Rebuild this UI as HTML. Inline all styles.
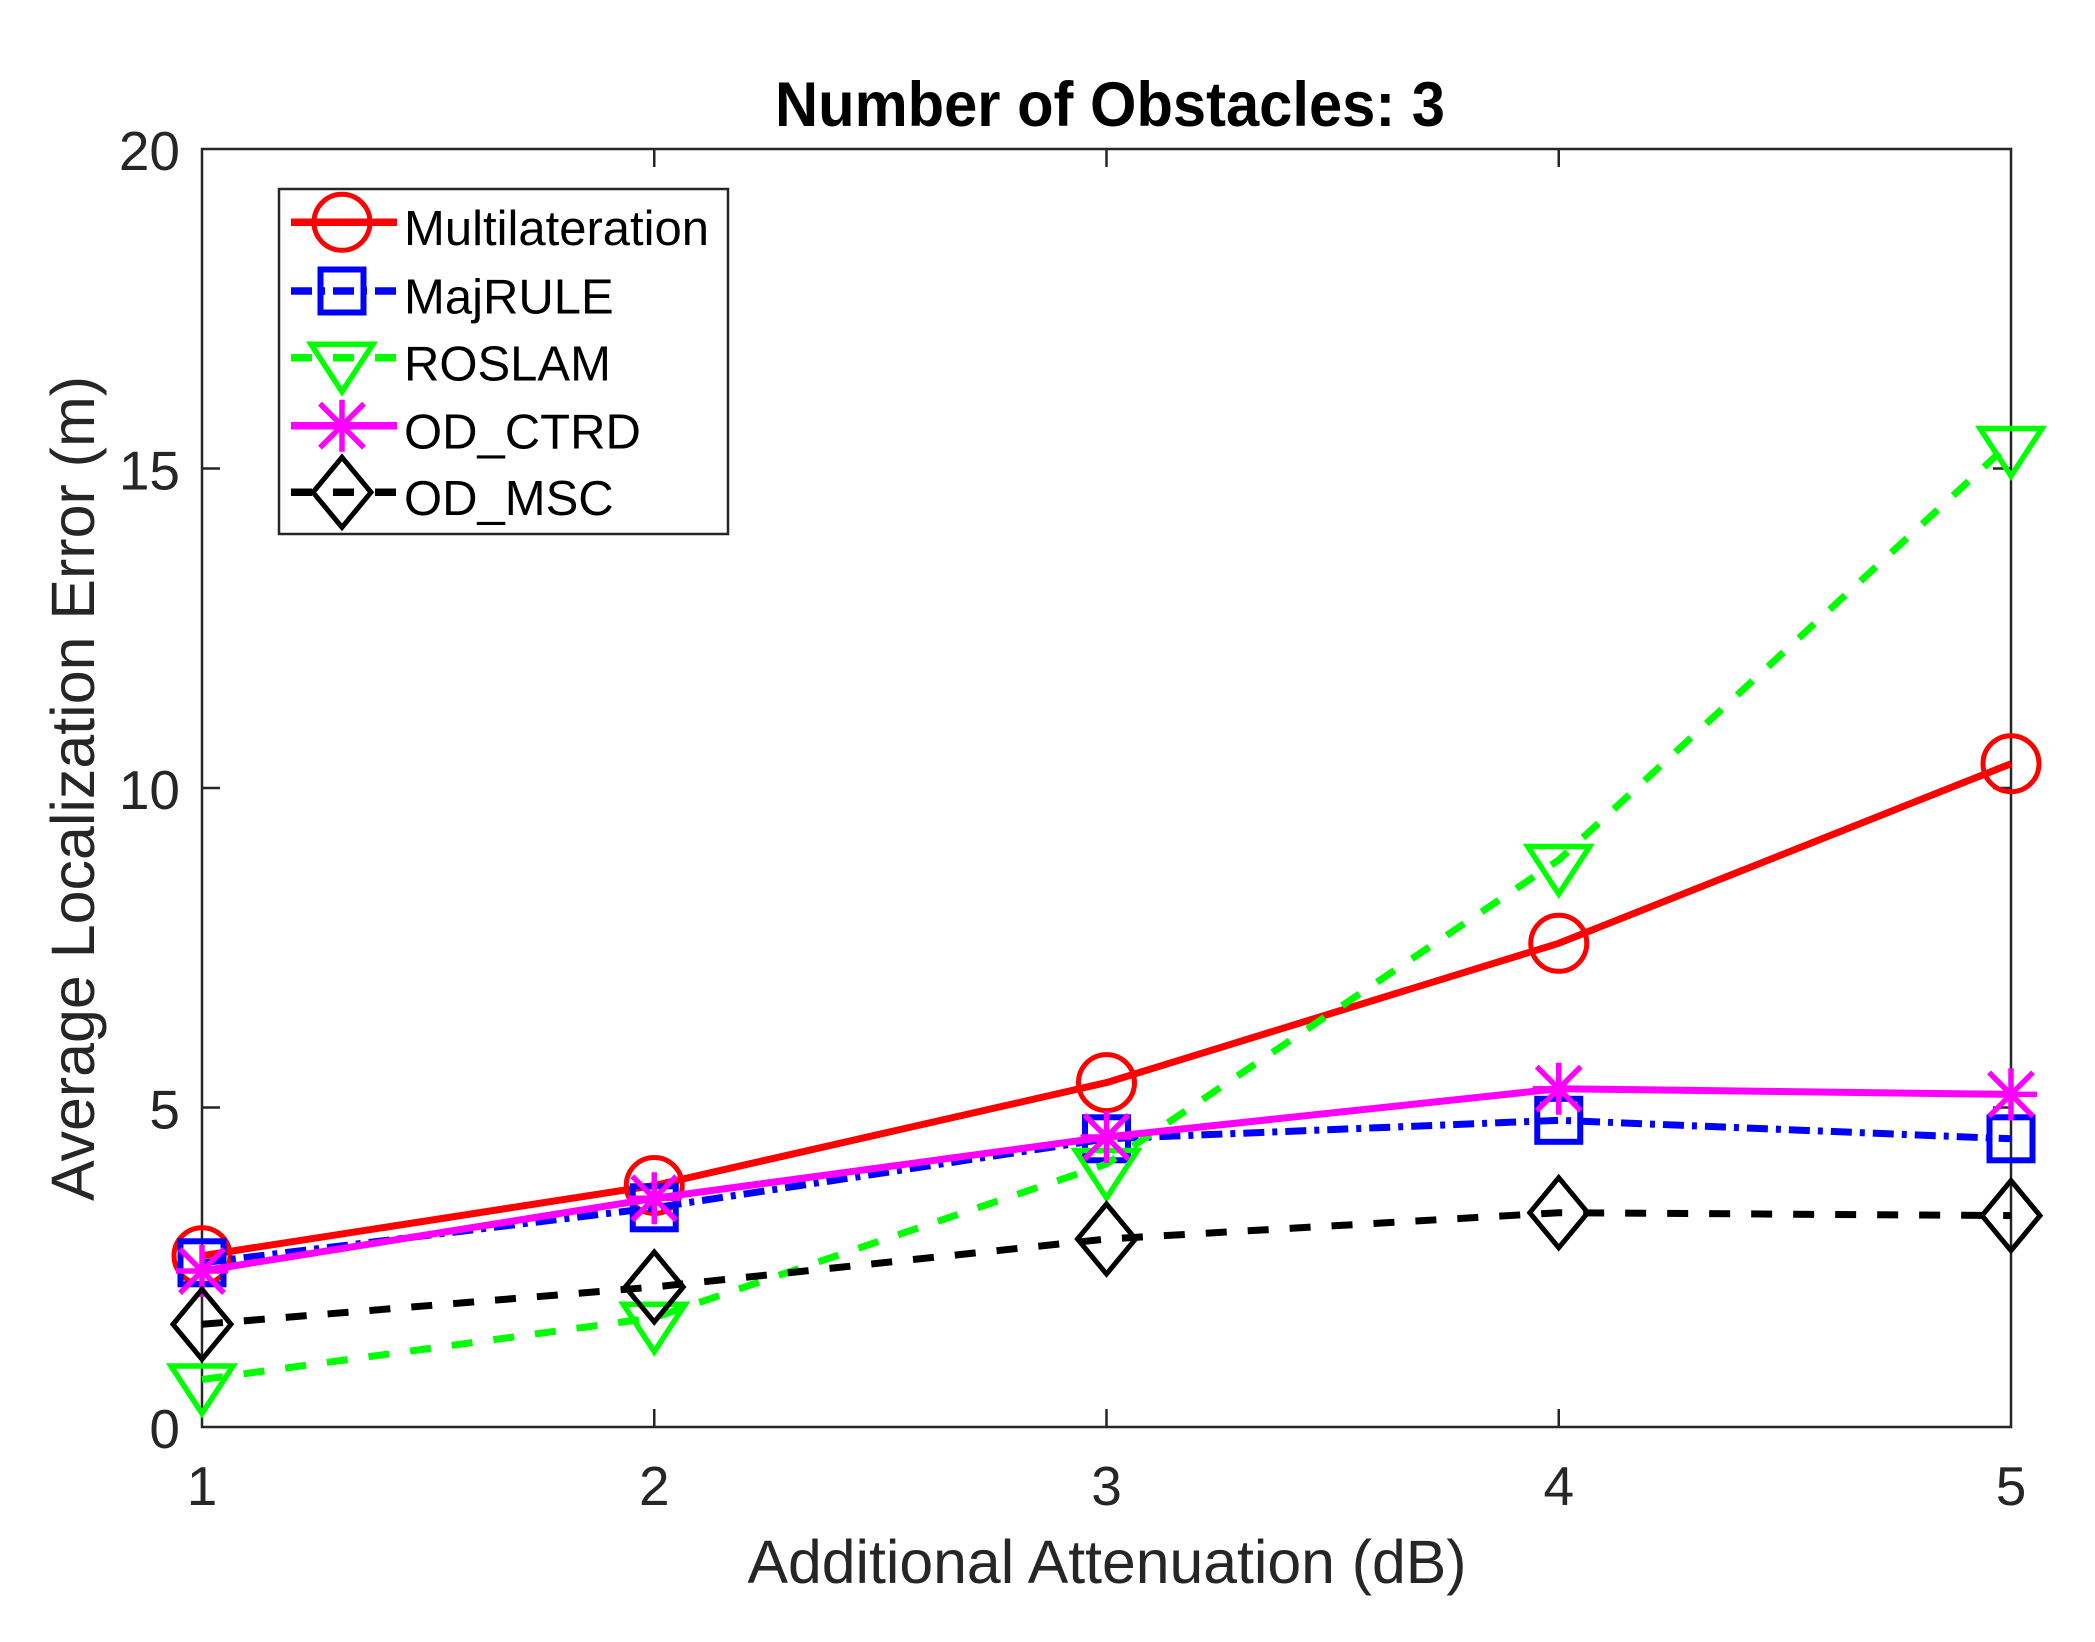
<!DOCTYPE html>
<html>
<head>
<meta charset="utf-8">
<style>
  html, body { margin:0; padding:0; background:#ffffff; }
  svg { display:block; }
  text { font-family: "Liberation Sans", Arial, sans-serif; }
</style>
</head>
<body>
<svg width="2095" height="1642" viewBox="0 0 2095 1642" xmlns="http://www.w3.org/2000/svg">
  <rect x="0" y="0" width="2095" height="1642" fill="#ffffff"/>

  <!-- Title -->
  <text x="1110" y="126" font-size="63" font-weight="bold" fill="#000" text-anchor="middle" textLength="670" lengthAdjust="spacingAndGlyphs">Number of Obstacles: 3</text>

  <!-- Axes box -->
  <rect x="202" y="149" width="1809" height="1278" fill="#ffffff" stroke="#262626" stroke-width="2.5"/>

  <!-- Ticks -->
  <g stroke="#262626" stroke-width="2.5">
    <line x1="654.25" y1="1427" x2="654.25" y2="1409"/>
    <line x1="1106.5" y1="1427" x2="1106.5" y2="1409"/>
    <line x1="1558.75" y1="1427" x2="1558.75" y2="1409"/>
    <line x1="654.25" y1="149" x2="654.25" y2="167"/>
    <line x1="1106.5" y1="149" x2="1106.5" y2="167"/>
    <line x1="1558.75" y1="149" x2="1558.75" y2="167"/>
    <line x1="202" y1="1107.5" x2="220" y2="1107.5"/>
    <line x1="202" y1="788" x2="220" y2="788"/>
    <line x1="202" y1="468.5" x2="220" y2="468.5"/>
    <line x1="2011" y1="1107.5" x2="1993" y2="1107.5"/>
    <line x1="2011" y1="788" x2="1993" y2="788"/>
    <line x1="2011" y1="468.5" x2="1993" y2="468.5"/>
  </g>

  <!-- Tick labels -->
  <g font-size="55" fill="#262626">
    <text x="202" y="1505" text-anchor="middle">1</text>
    <text x="654.25" y="1505" text-anchor="middle">2</text>
    <text x="1106.5" y="1505" text-anchor="middle">3</text>
    <text x="1558.75" y="1505" text-anchor="middle">4</text>
    <text x="2011" y="1505" text-anchor="middle">5</text>
    <text x="180" y="1448" text-anchor="end">0</text>
    <text x="180" y="1128.5" text-anchor="end">5</text>
    <text x="180" y="809" text-anchor="end">10</text>
    <text x="180" y="489.5" text-anchor="end">15</text>
    <text x="180" y="170" text-anchor="end">20</text>
  </g>

  <!-- Axis labels -->
  <text x="1107" y="1583" font-size="61" fill="#262626" text-anchor="middle" textLength="719" lengthAdjust="spacingAndGlyphs">Additional Attenuation (dB)</text>
  <text transform="translate(94,788.5) rotate(-90)" x="0" y="0" font-size="61" fill="#262626" text-anchor="middle" textLength="825" lengthAdjust="spacingAndGlyphs">Average Localization Error (m)</text>

  <!-- Multilateration (red, solid, circles) -->
  <g stroke="#ff0000" fill="none">
    <polyline stroke-width="7" stroke-linejoin="round" points="202,1255.7 654.25,1185.5 1106.5,1082.6 1558.75,943.3 2011,763.7"/>
    <g stroke-width="5">
      <circle cx="202" cy="1255.7" r="28"/>
      <circle cx="654.25" cy="1185.5" r="28"/>
      <circle cx="1106.5" cy="1082.6" r="28"/>
      <circle cx="1558.75" cy="943.3" r="28"/>
      <circle cx="2011" cy="763.7" r="28"/>
    </g>
  </g>

  <!-- MajRULE (blue, dash-dot, squares) -->
  <g stroke="#0000ff" fill="none">
    <polyline stroke-width="7" stroke-dasharray="21 8 5 8" points="202,1262.8 654.25,1207.8 1106.5,1138.8 1558.75,1120.3 2011,1138.8"/>
    <g stroke-width="6">
      <rect x="180.5" y="1241.3" width="43" height="43"/>
      <rect x="632.75" y="1186.3" width="43" height="43"/>
      <rect x="1085" y="1117.3" width="43" height="43"/>
      <rect x="1537.25" y="1098.8" width="43" height="43"/>
      <rect x="1989.5" y="1117.3" width="43" height="43"/>
    </g>
  </g>

  <!-- ROSLAM (green, dashed, down triangles) -->
  <g stroke="#00ff00" fill="none">
    <polyline stroke-width="7" stroke-dasharray="21 21" points="202,1379.5 654.25,1317.7 1106.5,1164 1558.75,860 2011,442"/>
    <g stroke-width="5.5" stroke-linejoin="miter">
      <polygon points="171,1366 233,1366 202,1413.5"/>
      <polygon points="623.25,1304.2 685.25,1304.2 654.25,1351.7"/>
      <polygon points="1075.5,1150.5 1137.5,1150.5 1106.5,1198"/>
      <polygon points="1527.75,846.5 1589.75,846.5 1558.75,894"/>
      <polygon points="1980,428.5 2042,428.5 2011,476"/>
    </g>
  </g>

  <!-- OD_CTRD (magenta, solid, asterisks) -->
  <g stroke="#ff00ff" fill="none">
    <polyline stroke-width="7" stroke-linejoin="round" points="202,1271 654.25,1198.3 1106.5,1137 1558.75,1088.7 2011,1094.4"/>
    <g stroke-width="5.5">
      <path d="M202,1245v52M176,1271h52M180,1249l44,44M180,1293l44,-44"/>
      <path d="M654.25,1172.3v52M628.25,1198.3h52M632.25,1176.3l44,44M632.25,1220.3l44,-44"/>
      <path d="M1106.5,1111v52M1080.5,1137h52M1084.5,1115l44,44M1084.5,1159l44,-44"/>
      <path d="M1558.75,1062.7v52M1532.75,1088.7h52M1536.75,1066.7l44,44M1536.75,1110.7l44,-44"/>
      <path d="M2011,1068.4v52M1985,1094.4h52M1989,1072.4l44,44M1989,1116.4l44,-44"/>
    </g>
  </g>

  <!-- OD_MSC (black, dashed, diamonds) -->
  <g stroke="#000000" fill="none">
    <polyline stroke-width="7" stroke-dasharray="21 21" points="202,1324.3 654.25,1287 1106.5,1239 1558.75,1212.7 2011,1215.6"/>
    <g stroke-width="5">
      <polygon points="202,1289.3 231,1324.3 202,1359.3 173,1324.3"/>
      <polygon points="654.25,1252 683.25,1287 654.25,1322 625.25,1287"/>
      <polygon points="1106.5,1204 1135.5,1239 1106.5,1274 1077.5,1239"/>
      <polygon points="1558.75,1177.7 1587.75,1212.7 1558.75,1247.7 1529.75,1212.7"/>
      <polygon points="2011,1180.6 2040,1215.6 2011,1250.6 1982,1215.6"/>
    </g>
  </g>

  <!-- Legend -->
  <rect x="279" y="189" width="449" height="345" fill="#ffffff" stroke="#262626" stroke-width="2.5"/>
  <g fill="none">
    <line x1="291" y1="222.3" x2="397" y2="222.3" stroke="#ff0000" stroke-width="7.5"/>
    <circle cx="342" cy="222.3" r="28" stroke="#ff0000" stroke-width="5"/>
    <line x1="291" y1="291" x2="397" y2="291" stroke="#0000ff" stroke-width="7.5" stroke-dasharray="21 8 5 8"/>
    <rect x="320.5" y="269.5" width="43" height="43" stroke="#0000ff" stroke-width="6"/>
    <line x1="291" y1="357.7" x2="397" y2="357.7" stroke="#00ff00" stroke-width="7.5" stroke-dasharray="21 21"/>
    <polygon points="311,344.2 373,344.2 342,391.7" stroke="#00ff00" stroke-width="5.5"/>
    <line x1="291" y1="425.7" x2="397" y2="425.7" stroke="#ff00ff" stroke-width="7.5"/>
    <path d="M342,399.7v52M316,425.7h52M320,403.7l44,44M320,447.7l44,-44" stroke="#ff00ff" stroke-width="5.5"/>
    <line x1="291" y1="492.3" x2="397" y2="492.3" stroke="#000000" stroke-width="7.5" stroke-dasharray="21 21"/>
    <polygon points="342,457.3 371,492.3 342,527.3 313,492.3" stroke="#000000" stroke-width="5"/>
  </g>
  <g font-size="49" fill="#000000">
    <text x="404" y="245">Multilateration</text>
    <text x="404" y="313.7">MajRULE</text>
    <text x="404" y="380.4">ROSLAM</text>
    <text x="404" y="448.4">OD_CTRD</text>
    <text x="404" y="515">OD_MSC</text>
  </g>
</svg>
</body>
</html>
